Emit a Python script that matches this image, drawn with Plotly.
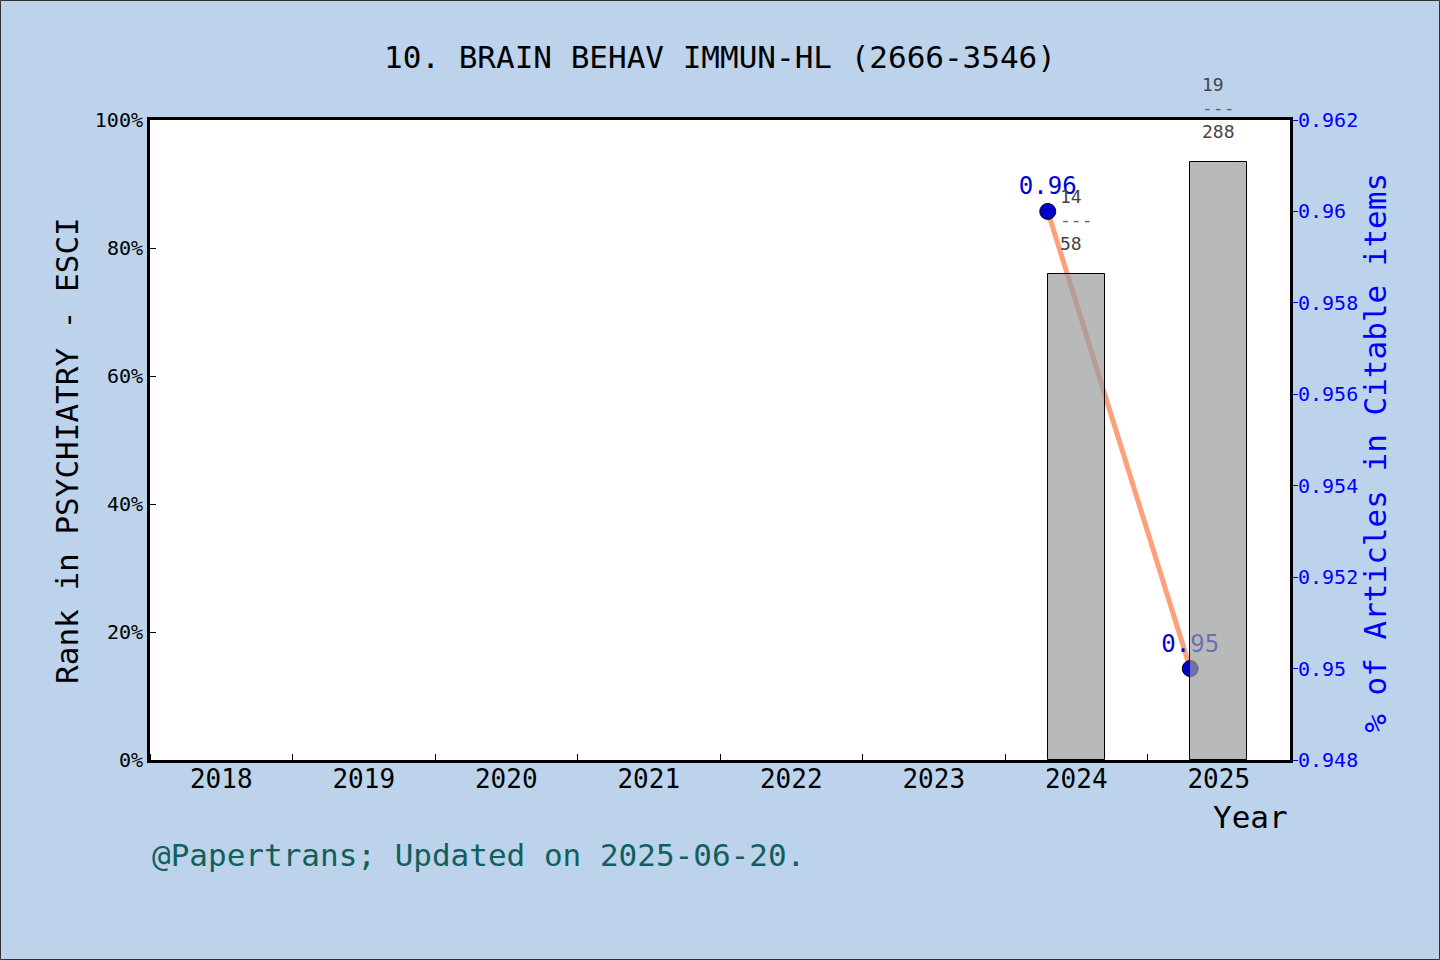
import plotly.graph_objects as go

# chart data
years = ["2018", "2019", "2020", "2021", "2022", "2023", "2024", "2025"]
bar_years = ["2024", "2025"]
rank = [14, 19]
total = [58, 288]
citable_share = [0.96, 0.95]
citable_text = ["0.96", "0.95"]

title = "10. BRAIN BEHAV IMMUN-HL (2666-3546)"
footer = "@Papertrans; Updated on 2025-06-20."

mono = "DejaVu Sans Mono"
bg = "#bdd3eb"

# numeric x positions so the line can sit on the left edge of each bar
pos = [years.index(y) for y in bar_years]
bar_val = [1 - r / t for r, t in zip(rank, total)]
line_x = [p - 0.2 for p in pos]

fig = go.Figure()

# line on the right axis (drawn first, bars overlay it)
fig.add_trace(go.Scatter(
    x=line_x, y=citable_share, yaxis="y",
    mode="lines+markers+text",
    text=citable_text, textposition="top center",
    textfont=dict(family=mono, size=24, color="#0000dd"),
    line=dict(color="#ffa07a", width=5),
    marker=dict(color="#0000cd", size=16, line=dict(color="black", width=1)),
    showlegend=False, cliponaxis=False,
))

# bars on the left axis, semi-transparent so the line shows through
fig.add_trace(go.Bar(
    x=pos, y=bar_val, yaxis="y2", width=0.4,
    marker=dict(color="rgba(155,156,157,0.71)", line=dict(color="black", width=1)),
    showlegend=False,
))

for p, v, r, t in zip(pos, bar_val, rank, total):
    fig.add_annotation(
        x=p, y=v, xref="x", yref="y2",
        text=f"{r}<br><span style='color:#666666'>---</span><br>{t}",
        align="left", showarrow=False, yanchor="bottom", yshift=18,
        font=dict(family=mono, size=18, color="#444444"),
    )

fig.update_layout(
    width=1440, height=960,
    paper_bgcolor=bg, plot_bgcolor="white",
    margin=dict(l=150, r=150, t=120, b=200),
    title=dict(text=title, x=0.5, xanchor="center", y=1 - 57 / 960, yanchor="middle",
               font=dict(family=mono, size=31, color="black")),
    bargap=0,
    xaxis=dict(
        range=[-0.5, 7.5], tickvals=list(range(len(years))), ticktext=years,
        ticks="", showgrid=False, zeroline=False, ticklabelstandoff=-6,
        showline=True, linecolor="black", linewidth=3, mirror=True,
        tickfont=dict(family=mono, size=26, color="black"),
        minor=dict(tick0=0.5, dtick=1, ticks="inside", ticklen=6, tickcolor="black", tickwidth=1),
    ),
    yaxis=dict(
        side="right", range=[0.948, 0.962], dtick=0.002,
        showgrid=False, zeroline=False, ticklabelstandoff=-4,
        showline=True, linecolor="black", linewidth=3,
        ticks="outside", ticklen=5, tickcolor="#0000ff",
        tickfont=dict(family=mono, size=20, color="#0000ff"),
    ),
    yaxis2=dict(
        overlaying="y", side="left", range=[0, 1], dtick=0.2, tickformat=".0%",
        showgrid=False, zeroline=False,
        showline=True, linecolor="black", linewidth=3,
        ticks="inside", ticklen=6, tickcolor="black",
        tickfont=dict(family=mono, size=20, color="black"),
    ),
)

# axis titles and footer
fig.add_annotation(x=-83 / 1140, y=0.483, xref="paper", yref="paper",
                   xanchor="center", yanchor="middle",
                   text="Rank in PSYCHIATRY - ESCI", textangle=-90, showarrow=False,
                   font=dict(family=mono, size=31, color="black"))
fig.add_annotation(x=1 + 85 / 1140, y=0.48, xref="paper", yref="paper",
                   xanchor="center", yanchor="middle",
                   text="% of Articles in Citable items", textangle=-90, showarrow=False,
                   font=dict(family=mono, size=31, color="#0000ff"))
fig.add_annotation(x=1, y=-57 / 640, xref="paper", yref="paper",
                   text="Year", xanchor="right", yanchor="middle", showarrow=False,
                   font=dict(family=mono, size=31, color="black"))
fig.add_annotation(x=0, y=-95 / 640, xref="paper", yref="paper",
                   text=footer, xanchor="left", yanchor="middle", showarrow=False,
                   font=dict(family=mono, size=31, color="#11605a"))

# thin frame around the whole figure
fig.add_shape(type="rect", xref="paper", yref="paper",
              x0=-149.5 / 1140, x1=1 + 149.5 / 1140, y0=-199.5 / 640, y1=1 + 119.5 / 640,
              line=dict(color="#333333", width=1))

fig.write_html("out.html", config={"displayModeBar": False},
               post_script="document.body.style.margin='0';")
